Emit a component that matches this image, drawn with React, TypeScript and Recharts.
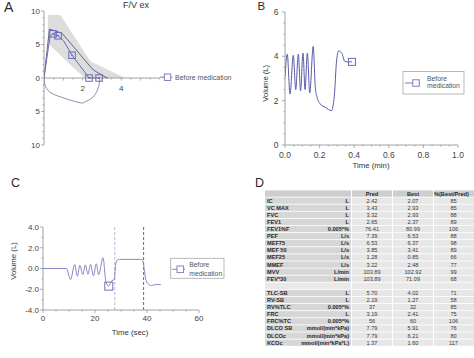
import React from 'react';
import { ComposedChart, Line, Area, XAxis, YAxis, Scatter, ReferenceLine } from 'recharts';

const FONT = '"Liberation Sans", Arial, Helvetica, sans-serif';
const AXIS = '#8a8a8a';
const TXT = '#444';

// ---------- Panel A : F/V ex ----------
const aBandX = [0.2, 0.85, 1.5, 2.1, 2.4, 3.3, 4.2];
const aBandLow = [5.2, 3.4, 1.6, 0, 0, 0, 0];
const aBandHigh = [9.4, 9.4, 6.5, 3.8, 2.5, 1.25, 0];
const aPredX = [0, 0.28, 0.92, 1.52, 2.04, 2.55, 3.16, 3.3];
const aPredY = [0, 7.3, 6.7, 4.7, 2.9, 1.2, 0.15, 0];
const aMeasX = [0, 0.31, 0.47, 0.73, 1.0, 1.45, 2.1, 2.33, 2.85];
const aMeasY = [0, 6.2, 6.6, 6.3, 5.6, 3.4, 0.9, 0, 0];
const aMarkX = [0.47, 0.73, 1.45, 2.33, 2.85];
const aMarkY = [6.6, 6.3, 3.4, 0, 0];
const aInspX = [0, 0.05, 0.3, 0.83, 1.35, 1.87, 2.1, 2.55, 2.8, 2.87, 2.87];
const aInspY = [0, -1.0, -2.1, -2.8, -3.3, -3.7, -3.6, -2.8, -1.5, -0.6, 0];
const aYLabels = [-10, -5, 0, 5, 10];
const aXLabels = [2, 4];

// ---------- Panel B : Volume vs time (min) ----------
const bX = [0, 0.013, 0.029, 0.048, 0.062, 0.077, 0.09, 0.104, 0.116, 0.129, 0.143, 0.163, 0.175, 0.185, 0.204, 0.233, 0.268, 0.285, 0.297, 0.31, 0.329, 0.345, 0.36, 0.387];
const bY = [3.05, 4.1, 2.3, 4.05, 2.5, 4.1, 2.45, 4.15, 2.5, 4.15, 2.35, 4.45, 2.6, 2.17, 1.85, 1.7, 1.55, 2.2, 3.7, 4.25, 4.13, 3.78, 3.75, 3.75];
const bMarkX = [0.387];
const bMarkY = [3.75];
const bXLabels = [0, 0.2, 0.4, 0.6, 0.8, 1.0];
const bYLabels = [0, 2, 4, 6];

// ---------- Panel C : Volume vs time (sec) ----------
const cX = [0, 9, 10.6, 12.2, 13.2, 14.2, 15.3, 16.3, 17.3, 18.3, 19.4, 20.5, 21.4, 23.1, 24.2, 25.3, 26.5, 27.4, 27.9, 28.5, 29.5, 38.0, 38.6, 39.0, 39.5, 40.3, 41.7, 43.0, 45.3];
const cY = [0, 0, -1.06, 0.39, -0.74, 0.3, -0.6, 0.35, -0.55, 0.4, -0.7, 0.45, -0.6, 1.03, -1.3, -1.7, -1.15, -1.1, 0.3, 0.82, 0.88, 0.88, 0.5, -0.2, -1.0, -1.45, -1.65, -1.55, -1.55];
const cMarkX = [25.3];
const cMarkY = [-1.7];
const cRefX = [27.6, 38.7];
const cXLabels = [0, 20, 40, 60];
const cYLabels = [-4, -2, 0, 2, 4];

// ---------- Panel D : table ----------
const dNames = ['IC', 'VC MAX', 'FVC', 'FEV1', 'FEV1%F', 'PEF', 'MEF75', 'MEF 50', 'MEF25', 'MMEF', 'MVV', 'FEV*30', '', 'TLC-SB', 'RV-SB', 'RV%TLC', 'FRC', 'FRC%TC', 'DLCO SB', 'DLCOc', 'KCOc'];
const dUnits = ['L', 'L', 'L', 'L', '0.005*%', 'L/s', 'L/s', 'L/s', 'L/s', 'L/s', 'L/min', 'L/min', '', 'L', 'L', '0.005*%', 'L', '0.005*%', 'mmol/(min*kPa)', 'mmol/(min*kPa)', 'mmol/(min*kPa*L)'];
const dPred = ['2.42', '3.43', '3.32', '2.65', '76.41', '7.39', '6.53', '3.85', '1.28', '3.22', '103.89', '103.89', '', '5.70', '2.19', '37', '3.19', '56', '7.79', '7.79', '1.37'];
const dBest = ['2.07', '2.93', '2.93', '2.37', '80.99', '6.53', '6.37', '3.41', '0.85', '2.48', '102.92', '71.09', '', '4.02', '1.27', '32', '2.41', '60', '5.91', '6.21', '1.60'];
const dPct = ['85', '85', '88', '89', '106', '88', '98', '89', '66', '77', '99', '68', '', '71', '58', '85', '75', '106', '76', '80', '117'];
const dHeader = ['Pred', 'Best', '%(Best/Pred)'];

const legendLabel = 'Before medication';

// ---------- helpers ----------
const zip = (xs: number[], ys: number[]) => xs.map((x, i) => ({ x, y: ys[i] }));
const steps = (a: number, b: number, s: number) => {
  const out: number[] = [];
  for (let v = a; v <= b + 1e-9; v += s) out.push(Math.round(v * 1000) / 1000);
  return out;
};
const near = (a: number, arr: number[]) => arr.some((b) => Math.abs(a - b) < 1e-6);

function yTick(labels: number[], fmt: (v: number) => string, gap: number, fs: number) {
  return (props: any) => {
    const { x, y, payload } = props;
    const v = Number(payload.value);
    const major = near(v, labels);
    return (
      <g>
        <line x1={x} x2={x - (major ? 3 : 1.5)} y1={y} y2={y} stroke={AXIS} strokeWidth={0.7} />
        {major ? (
          <text x={x - gap} y={y} dy="0.35em" textAnchor="end" fontSize={fs} fill={TXT} fontFamily={FONT}>
            {fmt(v)}
          </text>
        ) : null}
      </g>
    );
  };
}
function xTick(labels: number[], fmt: (v: number) => string, off: number, fs: number) {
  return (props: any) => {
    const { x, y, payload } = props;
    const v = Number(payload.value);
    const major = near(v, labels);
    return (
      <g>
        <line x1={x} x2={x} y1={y} y2={y + (major ? 3 : 1.5)} stroke={AXIS} strokeWidth={0.7} />
        {major ? (
          <text x={x} y={y + off} dy="0.71em" textAnchor="middle" fontSize={fs} fill={TXT} fontFamily={FONT}>
            {fmt(v)}
          </text>
        ) : null}
      </g>
    );
  };
}
const squareShape = (size: number, stroke: string, dotIn: boolean) => (p: any) => {
  const { cx, cy } = p;
  return (
    <g>
      <rect x={cx - size / 2} y={cy - size / 2} width={size} height={size} fill="none" stroke={stroke} strokeWidth={1} />
      {dotIn ? <circle cx={cx} cy={cy} r={0.8} fill="#555577" /> : null}
    </g>
  );
};

// ---------- data tables for series ----------
const aBand = aBandX.map((x, i) => ({ x, r: [aBandLow[i], aBandHigh[i]] }));
const aPred = zip(aPredX, aPredY);
const aMeas = zip(aMeasX, aMeasY);
const aMarks = zip(aMarkX, aMarkY);
const aInsp = zip(aInspX, aInspY);
const aXTickData = steps(0.5, 6, 0.5).map((x) => ({ x, y: 0 }));
const bData = zip(bX, bY);
const bMarks = zip(bMarkX, bMarkY);
const cData = zip(cX, cY);
const cMarks = zip(cMarkX, cMarkY);

const aXTickShape = (p: any) => {
  const { cx, cy, payload } = p;
  const v = payload.x;
  const isInt = Math.abs(v - Math.round(v)) < 1e-6;
  const major = near(v, aXLabels);
  return (
    <g>
      <line x1={cx} x2={cx} y1={cy} y2={cy + (isInt ? 2.5 : 1.5)} stroke={AXIS} strokeWidth={0.7} />
      {major ? (
        <text x={cx} y={cy + 7} dy="0.71em" textAnchor="middle" fontSize={8} fill={TXT} fontFamily={FONT}>
          {v}
        </text>
      ) : null}
    </g>
  );
};

function PanelA() {
  return (
    <ComposedChart width={240} height={170} margin={{ top: 11, right: 80, bottom: 25, left: 14 }}>
      <XAxis type="number" dataKey="x" domain={[0, 6]} hide allowDataOverflow />
      <YAxis
        type="number"
        domain={[-10, 10]}
        ticks={steps(-10, 10, 1)}
        interval={0}
        width={30}
        tickSize={0}
        tickMargin={0}
        tickLine={false}
        axisLine={{ stroke: AXIS, strokeWidth: 0.8 }}
        tick={yTick(aYLabels, (v) => String(Math.abs(v)), 4, 8)}
        allowDataOverflow
      />
      <Area data={aBand} dataKey="r" type="linear" stroke="none" fill="#dddddd" fillOpacity={1} isAnimationActive={false} />
      <ReferenceLine y={0} stroke={AXIS} strokeWidth={0.8} />
      <Line data={aInsp} dataKey="y" type="natural" stroke="#8080a8" strokeWidth={0.9} dot={false} isAnimationActive={false} />
      <Line data={aPred} dataKey="y" type="linear" stroke="#55557a" strokeWidth={0.9} dot={false} isAnimationActive={false} />
      <Line data={aMeas} dataKey="y" type="linear" stroke="#6a6ab8" strokeWidth={1} dot={false} isAnimationActive={false} />
      <Scatter data={aMarks} dataKey="y" shape={squareShape(6.5, '#6a6ab8', true)} isAnimationActive={false} />
      <Scatter data={aXTickData} dataKey="y" shape={aXTickShape} isAnimationActive={false} />
    </ComposedChart>
  );
}

function PanelB() {
  return (
    <ComposedChart width={237} height={175} margin={{ top: 12, right: 16, bottom: 5, left: 18 }}>
      <XAxis
        type="number"
        dataKey="x"
        domain={[0, 1]}
        ticks={steps(0, 1, 0.05)}
        interval={0}
        height={25}
        tickSize={0}
        tickMargin={0}
        tickLine={false}
        axisLine={{ stroke: AXIS, strokeWidth: 0.8 }}
        tick={xTick(bXLabels, (v) => v.toFixed(1), 6.5, 8.5)}
        allowDataOverflow
      />
      <YAxis
        type="number"
        domain={[0, 6]}
        ticks={steps(0, 6, 0.5)}
        interval={0}
        width={30}
        tickSize={0}
        tickMargin={0}
        tickLine={false}
        axisLine={{ stroke: AXIS, strokeWidth: 0.8 }}
        tick={yTick(bYLabels, (v) => String(v), 6.5, 8.5)}
        allowDataOverflow
      />
      <Line data={bData} dataKey="y" type="monotone" stroke="#5a5aa6" strokeWidth={1} dot={false} isAnimationActive={false} />
      <Scatter data={bMarks} dataKey="y" shape={squareShape(7, '#6a6ab8', false)} isAnimationActive={false} />
    </ComposedChart>
  );
}

function PanelC() {
  return (
    <ComposedChart width={237} height={188} margin={{ top: 57, right: 38, bottom: 23, left: 13 }}>
      <XAxis
        type="number"
        dataKey="x"
        domain={[0, 60]}
        ticks={steps(0, 60, 5)}
        interval={0}
        height={25}
        tickSize={0}
        tickMargin={0}
        tickLine={false}
        axisLine={{ stroke: AXIS, strokeWidth: 0.8 }}
        tick={xTick(cXLabels, (v) => String(v), 5, 8)}
        allowDataOverflow
      />
      <YAxis
        type="number"
        domain={[-4, 4]}
        ticks={steps(-4, 4, 1)}
        interval={0}
        width={30}
        tickSize={0}
        tickMargin={0}
        tickLine={false}
        axisLine={{ stroke: AXIS, strokeWidth: 0.8 }}
        tick={yTick(cYLabels, (v) => v.toFixed(1), 4, 8)}
        allowDataOverflow
      />
      <ReferenceLine x={cRefX[0]} stroke="#b4b4d6" strokeDasharray="3 2" strokeWidth={1} />
      <ReferenceLine x={cRefX[1]} stroke="#6262a2" strokeDasharray="3 2" strokeWidth={1} />
      <Line data={cData} dataKey="y" type="monotone" stroke="#8888c6" strokeWidth={1} dot={false} isAnimationActive={false} />
      <Scatter data={cMarks} dataKey="y" shape={squareShape(8, '#7070b4', false)} isAnimationActive={false} />
    </ComposedChart>
  );
}

function Overlay() {
  const ROW_H = 7.1;
  const T_TOP = 190;
  const cols = [
    { x: 265, w: 86 },
    { x: 352, w: 40 },
    { x: 393, w: 40 },
    { x: 434, w: 42 },
  ];
  const valCx = [372, 413, 453.5];
  const lab = { fontFamily: FONT, fill: '#2a2a2a' };
  return (
    <svg width={474} height={358} style={{ position: 'absolute', left: 0, top: 0 }}>
      {/* panel letters */}
      <text x={4} y={11.5} fontSize={14} {...lab}>A</text>
      <text x={257.5} y={10} fontSize={11.5} {...lab}>B</text>
      <text x={11} y={187} fontSize={12.5} {...lab}>C</text>
      <text x={255} y={186.7} fontSize={12.5} {...lab}>D</text>
      {/* A title */}
      <text x={136} y={7.5} fontSize={9} textAnchor="middle" fontFamily={FONT} fill="#333">F/V ex</text>
      {/* axis titles */}
      <text x={371} y={168} fontSize={7.8} textAnchor="middle" fontFamily={FONT} fill="#333">Time (min)</text>
      <text transform="translate(268.3,83.3) rotate(-90)" fontSize={7.6} textAnchor="middle" fontFamily={FONT} fill="#333">Volume (L)</text>
      <text x={130} y={335} fontSize={7.8} textAnchor="middle" fontFamily={FONT} fill="#333">Time (sec)</text>
      <text transform="translate(16,261) rotate(-90)" fontSize={7.8} textAnchor="middle" fontFamily={FONT} fill="#333">Volume (L)</text>
      {/* legend A */}
      <line x1={160} x2={172.5} y1={77.2} y2={77.2} stroke="#7a7ac0" strokeWidth={1} />
      <rect x={164.3} y={74} width={6.4} height={6.4} fill="#fff" stroke="#7070b8" strokeWidth={0.9} />
      <text x={175} y={80} fontSize={7} fontFamily={FONT} fill="#555">{legendLabel}</text>
      {/* legend B */}
      <rect x={403} y={71.5} width={61} height={22.5} fill="#fff" stroke="#a8a8a8" strokeWidth={0.8} />
      <line x1={405} x2={420} y1={83} y2={83} stroke="#7a7ac0" strokeWidth={1} />
      <rect x={412.8} y={79.8} width={6.4} height={6.4} fill="#fff" stroke="#7070b8" strokeWidth={0.9} />
      <text x={427} y={81.3} fontSize={6.8} fontFamily={FONT} fill="#555">Before</text>
      <text x={427} y={88.4} fontSize={6.8} fontFamily={FONT} fill="#555">medication</text>
      {/* legend C */}
      <rect x={170.7} y={258.3} width={53.3} height={20} fill="#fff" stroke="#a8a8a8" strokeWidth={0.8} />
      <line x1={171.7} x2={185} y1={269.3} y2={269.3} stroke="#8888c6" strokeWidth={1} />
      <rect x={177} y={266} width={6.6} height={6.6} fill="#fff" stroke="#7a7abc" strokeWidth={0.9} />
      <text x={189.3} y={267} fontSize={6.8} fontFamily={FONT} fill="#555">Before</text>
      <text x={189.3} y={275.8} fontSize={6.8} fontFamily={FONT} fill="#555">medication</text>
      {/* table D */}
      {cols.map((c, ci) => (
        <rect key={'h' + ci} x={c.x} y={T_TOP + 0.4} width={c.w} height={ROW_H - 0.8} fill="#cecece" />
      ))}
      <text x={valCx[0]} y={T_TOP + ROW_H / 2 + 2} fontSize={5.6} fontWeight="bold" textAnchor="middle" {...lab}>{dHeader[0]}</text>
      <text x={valCx[1]} y={T_TOP + ROW_H / 2 + 2} fontSize={5.6} fontWeight="bold" textAnchor="middle" {...lab}>{dHeader[1]}</text>
      <text x={434} y={T_TOP + ROW_H / 2 + 2} fontSize={5.6} fontWeight="bold" {...lab}>{dHeader[2]}</text>
      {dNames.map((n, i) => {
        const top = T_TOP + (i + 1) * ROW_H;
        const ty = top + ROW_H / 2 + 2;
        const blank = n === '';
        return (
          <g key={'r' + i}>
            {cols.map((c, ci) => (
              <rect
                key={ci}
                x={c.x}
                y={top + 0.4}
                width={c.w}
                height={ROW_H - 0.8}
                fill={blank ? '#e9e9e9' : ci === 0 ? '#d6d6d6' : '#e7e7e7'}
              />
            ))}
            <text x={267} y={ty} fontSize={5.6} fontWeight="bold" {...lab}>{n}</text>
            <text x={349} y={ty} fontSize={5.6} fontWeight="bold" textAnchor="end" {...lab}>{dUnits[i]}</text>
            <text x={valCx[0]} y={ty} fontSize={5.6} textAnchor="middle" fontFamily={FONT} fill="#3a3a3a">{dPred[i]}</text>
            <text x={valCx[1]} y={ty} fontSize={5.6} textAnchor="middle" fontFamily={FONT} fill="#3a3a3a">{dBest[i]}</text>
            <text x={valCx[2]} y={ty} fontSize={5.6} textAnchor="middle" fontFamily={FONT} fill="#3a3a3a">{dPct[i]}</text>
          </g>
        );
      })}
    </svg>
  );
}

export default function App() {
  return (
    <div style={{ position: 'absolute', left: 0, top: 0, width: 474, height: 358, background: '#fff', overflow: 'hidden', fontFamily: FONT }}>
      <div style={{ position: 'absolute', left: 0, top: 0 }}>
        <PanelA />
      </div>
      <div style={{ position: 'absolute', left: 237, top: 0 }}>
        <PanelB />
      </div>
      <div style={{ position: 'absolute', left: 0, top: 170 }}>
        <PanelC />
      </div>
      <Overlay />
    </div>
  );
}
